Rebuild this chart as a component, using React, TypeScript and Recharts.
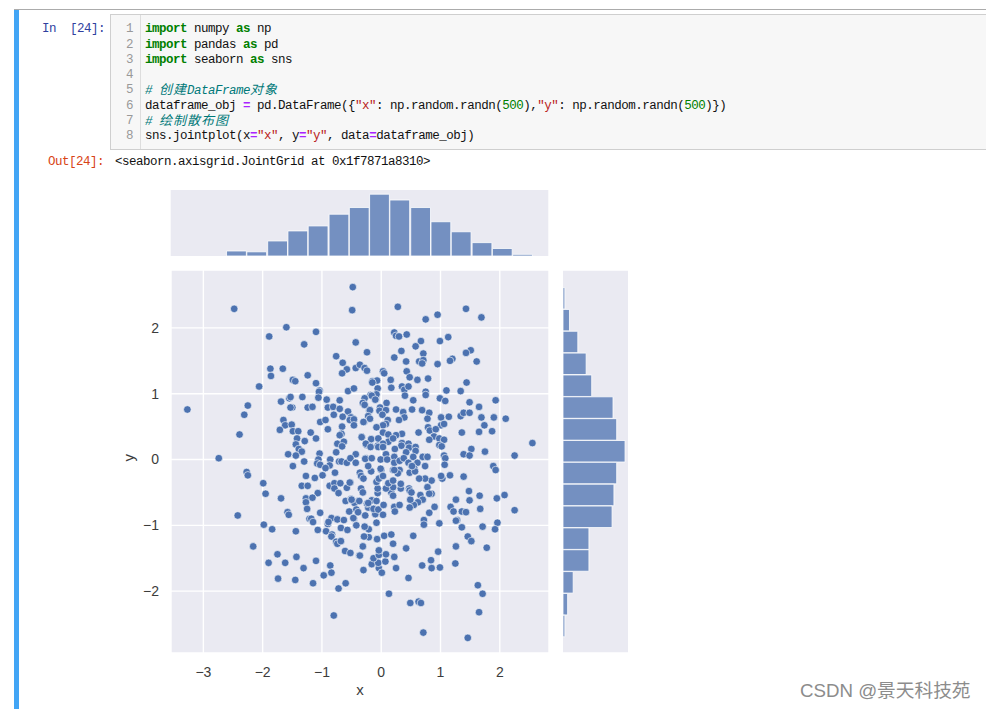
import React from "react";
import { ScatterChart, Scatter, BarChart, Bar, XAxis, YAxis, CartesianGrid } from "recharts";

const xTicks = [-3, -2, -1, 0, 1, 2];
const yTicks = [-2, -1, 0, 1, 2];
const xDomain = [-3.546, 2.83];
const yDomain = [-2.94, 2.88];

const upperLeftPoints = [
  [-0.48,2.62],[-0.49,2.27],[-2.48,2.29],[-1.60,2.01],[-1.10,1.94],[-1.89,1.87],[-1.30,1.75],[-0.43,1.78],[-0.76,1.57],[-0.65,1.47],
  [-0.43,1.39],[-0.58,1.37],[-0.66,1.31],[-1.87,1.38],[-1.66,1.38],[-1.86,1.27],[-1.24,1.28],[-1.49,1.21],[-1.45,1.19],[-1.10,1.16],
  [-2.06,1.11],[-1.04,1.05],[-1.05,1.03],[-0.56,1.04],[-0.46,1.08],[-1.55,0.93],[-1.53,0.95],[-1.69,0.88],[-1.33,0.95],[-1.06,0.94],
  [-0.92,0.91],[-0.70,0.90],[-2.25,0.82],[-2.31,0.68],[-3.27,0.76],[-2.39,0.38],[-2.74,0.02],[-1.50,0.79],[-1.53,0.79],[-1.24,0.79],
  [-1.16,0.80],[-0.90,0.79],[-0.81,0.80],[-0.70,0.77],[-0.56,0.73],[-0.80,0.68],[-0.65,0.65],[-0.51,0.64],[-0.53,0.60],[-0.46,0.61],
  [-1.65,0.60],[-1.62,0.52],[-1.51,0.53],[-1.71,0.45],[-1.49,0.43],[-1.40,0.43],[-1.19,0.41],[-1.03,0.57],[-0.94,0.60],[-0.90,0.46],
  [-0.66,0.50],[-0.46,0.52],[-0.67,0.39],[-0.70,0.37],[-1.42,0.32],[-1.10,0.32],[-1.29,0.28],[-1.44,0.23],[-0.74,0.24],[-0.63,0.27],
  [-0.66,0.20],[-1.39,0.16],[-1.34,0.12],[-1.57,0.08],[-1.44,0.06],[-1.04,0.09],[-0.76,0.11],[-0.43,0.08],[-1.06,0.0],[-1.08,-0.06],
  [-1.03,-0.08],[-1.30,-0.03],[-1.49,-0.10],[-0.86,0.0],[-0.87,-0.09],[-0.71,-0.03],[-0.67,-0.03],[-0.58,-0.05],[-0.52,0.02],[-0.43,-0.05],
  [-0.29,0.57],[-0.20,0.75],[-0.18,0.98],[-0.09,0.92],[-0.15,1.19],[-0.33,0.34],[-0.25,0.22],[-0.18,0.20],[-0.06,0.21],[-0.26,0.02],
];

const upperRightPoints = [
  [0.28,2.32],[1.43,2.29],[0.95,2.20],[0.75,2.13],[1.69,2.16],[0.22,1.93],[0.25,1.88],[0.30,1.87],[0.43,1.90],[1.13,1.86],
  [0.99,1.80],[0.67,1.80],[0.58,1.72],[0.34,1.65],[-0.24,1.63],[0.71,1.61],[1.51,1.66],[1.43,1.62],[0.22,1.55],[0.42,1.49],
  [0.64,1.49],[0.71,1.51],[0.69,1.46],[1.20,1.53],[1.16,1.50],[1.61,1.49],[0.95,1.45],[-0.36,1.44],[-0.28,1.39],[-0.24,1.35],
  [0.03,1.34],[0.05,1.31],[0.43,1.34],[0.48,1.25],[0.16,1.21],[-0.07,1.20],[-0.15,1.17],[0.61,1.21],[0.79,1.23],[1.44,1.17],
  [-0.06,1.08],[0.17,1.09],[0.35,1.11],[0.39,1.06],[0.46,1.11],[1.10,1.05],[1.34,1.04],[0.75,1.03],[0.75,0.98],[0.40,0.97],
  [-0.08,0.99],[-0.16,0.97],[-0.28,0.93],[-0.10,0.91],[0.54,0.90],[0.99,0.93],[1.08,0.89],[1.49,0.87],[1.93,0.90],[0.09,0.86],
  [-0.31,0.86],[-0.28,0.83],[1.65,0.80],[-0.19,0.75],[-0.02,0.79],[-0.03,0.74],[0.08,0.75],[0.25,0.76],[0.37,0.72],[0.39,0.64],
  [0.52,0.76],[0.69,0.75],[0.81,0.71],[0.78,0.62],[1.01,0.64],[1.14,0.65],[1.34,0.66],[1.39,0.71],[1.49,0.71],[1.69,0.64],
  [1.90,0.64],[2.10,0.62],[-0.22,0.66],[0.02,0.68],[-0.19,0.62],[0.30,0.60],[0.11,0.60],[-0.30,0.57],[0.08,0.54],[0.03,0.52],
  [-0.08,0.49],[1.01,0.52],[1.06,0.54],[1.74,0.52],[0.79,0.49],[0.82,0.44],[0.92,0.46],[0.63,0.41],[1.65,0.42],[1.87,0.43],
  [1.36,0.41],[0.03,0.41],[0.35,0.39],[0.12,0.38],[0.25,0.37],[-0.33,0.34],[-0.17,0.31],[-0.05,0.32],[0.89,0.35],[0.98,0.32],
  [1.06,0.30],[0.81,0.30],[2.55,0.25],[-0.26,0.24],[0.12,0.27],[0.20,0.32],[0.03,0.24],[-0.05,0.19],[-0.18,0.19],[0.03,0.19],
  [0.35,0.25],[0.46,0.24],[0.34,0.21],[0.47,0.18],[0.23,0.16],[0.58,0.19],[0.58,0.13],[0.42,0.11],[0.98,0.22],[1.02,0.20],
  [1.52,0.16],[1.75,0.12],[0.08,0.08],[1.06,0.06],[1.08,0.02],[1.39,0.08],[1.49,0.06],[2.25,0.06],[-0.27,0.01],[-0.16,0.02],
  [-0.01,0.0],[0.22,0.04],[0.10,0.0],[0.22,-0.05],[0.31,-0.02],[0.38,0.02],[0.46,-0.05],[0.54,0.04],[0.70,0.04],[0.78,0.04],
];

const lowerLeftPoints = [
  [-2.27,-0.19],[-2.25,-0.24],[-1.27,-0.25],[-1.12,-0.28],[-0.99,-0.24],[-0.78,-0.20],[-0.94,-0.13],[-1.99,-0.36],[-1.34,-0.40],[-1.24,-0.40],
  [-0.87,-0.40],[-0.79,-0.36],[-0.69,-0.36],[-0.52,-0.35],[-0.79,-0.44],[-0.58,-0.43],[-0.72,-0.51],[-1.95,-0.52],[-1.07,-0.51],[-1.69,-0.59],
  [-1.27,-0.59],[-1.16,-0.58],[-0.60,-0.63],[-0.51,-0.60],[-0.39,-0.63],[-0.45,-0.66],[-1.27,-0.65],[-1.25,-0.75],[-0.42,-0.76],[-0.54,-0.79],
  [-2.42,-0.85],[-1.58,-0.80],[-1.56,-0.84],[-1.03,-0.81],[-1.21,-0.90],[-1.18,-0.90],[-1.15,-0.95],[-0.84,-0.89],[-0.74,-0.91],[-0.63,-0.92],
  [-0.46,-0.90],[-0.90,-0.98],[-0.89,-0.95],[-0.42,-1.00],[-1.98,-0.99],[-1.84,-1.06],[-1.44,-1.09],[-1.07,-1.07],[-0.93,-1.09],[-0.68,-1.04],
  [-0.57,-1.07],[-0.83,-1.14],[-0.84,-1.17],[-0.76,-1.25],[-0.74,-1.28],[-0.68,-1.24],[-2.16,-1.32],[-0.61,-1.39],[-0.52,-1.42],[-0.37,-1.46],
  [-1.75,-1.44],[-1.43,-1.48],[-1.90,-1.57],[-1.62,-1.57],[-1.10,-1.54],[-0.86,-1.61],[-1.31,-1.65],[-0.84,-1.72],[-0.97,-1.76],[-1.74,-1.81],
  [-1.45,-1.83],[-1.15,-1.88],[-0.60,-1.88],[-0.72,-1.96],[-0.80,-2.37],[-0.30,-1.68],[-0.16,-1.59],[-0.04,-1.65],[-0.05,-1.57],[-0.13,-1.50],
  [-0.04,-1.45],[-0.04,-1.38],[-0.36,-1.46],[-0.31,-1.32],[-0.07,-1.21],[-0.21,-1.18],[-0.29,-1.17],[-0.21,-1.06],[-0.28,-1.02],[-0.08,-0.96],
  [-0.47,-0.89],[-0.27,-0.85],[-0.10,-0.83],[-0.39,-0.80],[-0.22,-0.73],[-0.13,-0.75],[-0.24,-0.67],[-0.16,-0.62],[-0.08,-0.63],[-0.37,-0.63],
  [-0.50,-0.61],[-0.34,-0.44],[-0.31,-0.50],[-0.06,-0.51],[-0.06,-0.44],[-0.08,-0.34],[-0.04,-0.29],[-0.36,-0.20],[-0.34,-0.25],[-0.30,-0.29],
  [-0.17,-0.18],[0.0,-0.16],[-0.22,-0.10],[-0.53,-0.35],[-0.05,-0.76],[-0.22,-0.66],[-0.01,-0.14],
];

const lowerRightPoints = [
  [0.61,-0.05],[0.74,-0.10],[1.07,-0.08],[1.89,-0.10],[1.93,-0.16],[0.20,-0.16],[0.31,-0.16],[0.51,-0.10],[0.56,-0.14],[1.03,-0.29],
  [1.01,-0.25],[1.16,-0.24],[1.39,-0.26],[0.85,-0.32],[0.74,-0.29],[0.64,-0.29],[0.78,-0.42],[1.48,-0.48],[1.66,-0.55],[1.49,-0.62],
  [1.26,-0.61],[2.08,-0.54],[1.95,-0.59],[2.25,-0.77],[0.85,-0.52],[0.81,-0.52],[0.66,-0.54],[0.70,-0.61],[0.62,-0.65],[0.55,-0.69],
  [0.49,-0.61],[0.48,-0.73],[0.90,-0.72],[1.17,-0.72],[1.22,-0.79],[1.36,-0.79],[1.43,-0.80],[1.67,-0.75],[0.81,-0.81],[0.72,-0.92],
  [0.72,-0.99],[0.98,-0.97],[1.28,-0.92],[1.26,-0.93],[1.36,-1.03],[1.71,-1.02],[1.96,-0.96],[1.92,-1.06],[0.54,-1.16],[1.46,-1.17],
  [1.52,-1.24],[1.26,-1.32],[1.78,-1.34],[0.42,-1.35],[0.96,-1.40],[0.84,-1.53],[0.69,-1.61],[0.85,-1.65],[0.99,-1.64],[1.25,-1.58],
  [0.46,-1.80],[1.63,-1.91],[1.71,-2.04],[0.13,-2.04],[0.49,-2.18],[0.63,-2.16],[0.67,-2.18],[1.65,-2.32],[0.71,-2.63],[1.46,-2.71],
  [0.25,-1.65],[0.01,-1.72],[0.07,-1.55],[0.22,-1.48],[0.08,-1.44],[0.20,-1.28],[0.05,-1.16],[0.17,-1.14],[0.03,-0.84],[0.22,-0.72],
  [0.23,-0.79],[0.31,-0.69],[0.04,-0.69],[0.17,-0.50],[0.20,-0.42],[0.33,-0.44],[0.47,-0.44],[0.48,-0.47],[0.51,-0.50],[0.08,-0.44],
  [0.20,-0.55],[0.03,-0.25],[0.12,-0.36],[0.20,-0.32],[0.33,-0.37],[0.28,-0.21],[0.22,-0.16],[0.48,-0.20],[0.57,-0.18],[0.52,-0.10],
];

const scatterPoints = [...upperLeftPoints, ...upperRightPoints, ...lowerLeftPoints, ...lowerRightPoints];

const topBinCenters = [-2.41,-2.07,-1.72,-1.38,-1.04,-0.69,-0.35,-0.01,0.33,0.68,1.02,1.36,1.71,2.05,2.39];
const topBinCounts = [6,5,18,30,36,50,58,74,67,58,41,29,16,9,2];
const rightBinCenters = [2.447,2.115,1.783,1.451,1.119,0.787,0.455,0.123,-0.209,-0.541,-0.873,-1.205,-1.537,-1.869,-2.201,-2.533];
const rightBinCounts = [2,7,16,25,31,54,58,67,58,55,53,28,28,11,5,2];

const scatterData = scatterPoints.map(([x, y]) => ({ x, y }));
const topData = topBinCenters.map((c, i) => ({ c, n: topBinCounts[i] }));
const rightData = rightBinCenters.map((c, i) => ({ c, n: rightBinCounts[i] }));

const PANEL = "#eaeaf2";
const TICK = { fill: "#3c3c3c", fontSize: 14, fontFamily: "Liberation Sans, Arial, sans-serif" };
const fmt = (v: number) => String(v).replace("-", "\u2212");

const Dot = (p: any) => (
  <circle cx={p.cx} cy={p.cy} r={3.8} fill="#4c72b0" stroke="#ffffff" strokeOpacity={0.75} strokeWidth={0.8} />
);

const MONO = "'Liberation Mono', 'DejaVu Sans Mono', monospace";
const CJK = "'Noto Sans CJK SC', sans-serif";

const kw = (t: string) => <span style={{ color: "#008000", fontWeight: 700 }}>{t}</span>;
const op = (t: string) => <span style={{ color: "#aa22ff", fontWeight: 700 }}>{t}</span>;
const str = (t: string) => <span style={{ color: "#ba2121" }}>{t}</span>;
const num = (t: string) => <span style={{ color: "#008000" }}>{t}</span>;
const cm = (t: string) => (
  <span style={{ color: "#007979", fontStyle: "italic" }}>{t}</span>
);
const zh = (t: string) => (
  <span style={{ color: "#007979", fontStyle: "italic", fontFamily: CJK, fontSize: 13, letterSpacing: 1, lineHeight: "12px" }}>{t}</span>
);

const codeLines: React.ReactNode[] = [
  <>{kw("import")} numpy {kw("as")} np</>,
  <>{kw("import")} pandas {kw("as")} pd</>,
  <>{kw("import")} seaborn {kw("as")} sns</>,
  <></>,
  <>{cm("# ")}{zh("创建")}{cm("DataFrame")}{zh("对象")}</>,
  <>dataframe_obj {op("=")} pd.DataFrame({"{"}{str('"x"')}: np.random.randn({num("500")}),{str('"y"')}: np.random.randn({num("500")}){"}"})</>,
  <>{cm("# ")}{zh("绘制散布图")}</>,
  <>sns.jointplot(x{op("=")}{str('"x"')}, y{op("=")}{str('"y"')}, data{op("=")}dataframe_obj)</>,
];
const lineTops = [22, 38, 53, 68, 83, 99, 114, 129];

const abs = (left: number, top: number, extra: React.CSSProperties = {}): React.CSSProperties => ({
  position: "absolute", left, top, whiteSpace: "pre", ...extra,
});
const monoText: React.CSSProperties = { fontFamily: MONO, fontSize: 12.5, letterSpacing: -0.5, lineHeight: "14px", height: 14, color: "#111" };

export default function App() {
  return (
    <div style={{ position: "absolute", left: 0, top: 0, width: 986, height: 709, overflow: "hidden", background: "#fff" }}>
      <div style={abs(14, 9, { width: 972, height: 1, background: "#ababab" })} />
      <div style={abs(14, 10, { width: 5, height: 699, background: "#42a5f5" })} />
      <div style={abs(110, 14, { width: 880, height: 134, background: "#f7f7f7", border: "1px solid #cfcfcf" })} />
      <div style={abs(140, 15, { width: 1, height: 134, background: "#dddddd" })} />

      <div style={abs(42, 22, { ...monoText, color: "#303f9f" })}>{"In  [24]:"}</div>
      <div style={abs(48, 155, { ...monoText, color: "#d84315" })}>{"Out[24]:"}</div>
      <div style={abs(115, 155, monoText)}>{"<seaborn.axisgrid.JointGrid at 0x1f7871a8310>"}</div>

      {codeLines.map((line, i) => (
        <React.Fragment key={i}>
          <div style={abs(126, lineTops[i], { ...monoText, color: "#999999" })}>{String(i + 1)}</div>
          <div style={abs(145, lineTops[i], monoText)}>{line}</div>
        </React.Fragment>
      ))}

      <div style={abs(170, 190)}>
        <BarChart width={379} height={66} data={topData} margin={{ top: 0, right: 0, bottom: 0, left: 0 }} barCategoryGap={0}>
          <CartesianGrid horizontal={false} stroke="#ffffff" strokeWidth={1.4} fill={PANEL} fillOpacity={1} />
          <XAxis dataKey="c" type="number" domain={[-3.529, 2.83]} ticks={xTicks} height={0} tick={false} tickSize={0} axisLine={false} tickLine={false} allowDataOverflow />
          <YAxis type="number" domain={[0, 79]} width={0} tick={false} tickSize={0} axisLine={false} tickLine={false} />
          <Bar dataKey="n" barSize={19.8} fill="#4c72b0" fillOpacity={0.75} stroke="#ffffff" strokeWidth={0.8} isAnimationActive={false} />
        </BarChart>
      </div>

      <div style={abs(563, 270)}>
        <BarChart width={65} height={383} data={rightData} layout="vertical" margin={{ top: 0, right: 0, bottom: 0, left: 0 }} barCategoryGap={0}>
          <CartesianGrid vertical={false} stroke="#ffffff" strokeWidth={1.4} fill={PANEL} fillOpacity={1} />
          <YAxis dataKey="c" type="number" reversed domain={yDomain} ticks={yTicks} width={0} tick={false} tickSize={0} axisLine={false} tickLine={false} allowDataOverflow />
          <XAxis type="number" domain={[0, 70.2]} height={0} tick={false} tickSize={0} axisLine={false} tickLine={false} />
          <Bar dataKey="n" barSize={21.5} fill="#4c72b0" fillOpacity={0.75} stroke="#ffffff" strokeWidth={0.8} isAnimationActive={false} />
        </BarChart>
      </div>

      <div style={abs(100, 262)}>
        <ScatterChart width={470} height={447} margin={{ top: 8, right: 21, bottom: 0, left: 0 }}>
          <CartesianGrid stroke="#ffffff" strokeWidth={1.4} fill={PANEL} fillOpacity={1} />
          <XAxis dataKey="x" type="number" domain={xDomain} ticks={xTicks} height={56} tickFormatter={fmt} tick={TICK} tickSize={0} tickMargin={14} axisLine={false} tickLine={false} allowDataOverflow
            label={{ value: "x", position: "insideBottom", offset: 14, style: { fill: "#3c3c3c", fontSize: 15, fontFamily: "Liberation Sans, Arial, sans-serif" } }} />
          <YAxis dataKey="y" type="number" domain={yDomain} ticks={yTicks} width={71} tickFormatter={fmt} tick={TICK} tickSize={0} tickMargin={12} axisLine={false} tickLine={false} allowDataOverflow
            label={{ value: "y", angle: -90, position: "insideLeft", offset: 29, style: { fill: "#3c3c3c", fontSize: 15, fontFamily: "Liberation Sans, Arial, sans-serif" } }} />
          <Scatter data={scatterData} shape={Dot} isAnimationActive={false} />
        </ScatterChart>
      </div>

      <div style={abs(800, 680, { fontFamily: "'Liberation Sans', 'Noto Sans CJK SC', sans-serif", fontSize: 18.7, lineHeight: "22px", color: "#8c8c8c" })}>CSDN @景天科技苑</div>
    </div>
  );
}
